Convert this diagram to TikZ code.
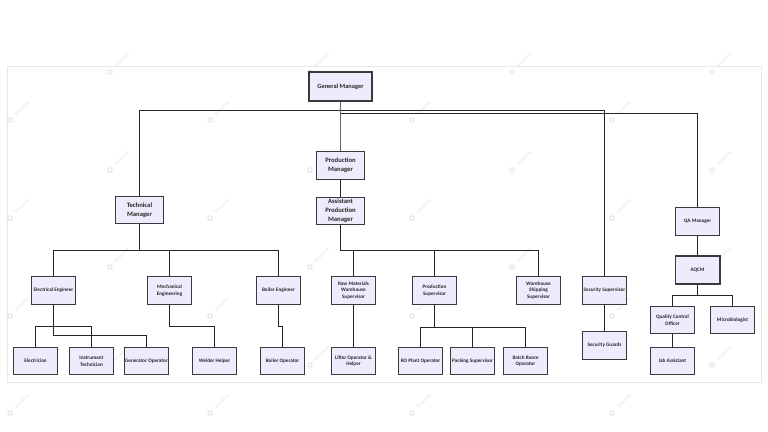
\documentclass[tikz,border=0pt]{standalone}
\usepackage{fontspec}
\setmainfont{Carlito}
\definecolor{boxfill}{HTML}{EFEBFC}
\definecolor{boxline}{HTML}{3A3A3A}
\definecolor{framecol}{HTML}{E8E8E8}
\definecolor{markcol}{HTML}{E4E4E4}
\begin{document}
\begin{tikzpicture}[x=0.75pt,y=-0.75pt,
  person/.style={draw=boxline,fill=boxfill,line width=0.8pt,minimum width=33.4pt,minimum height=20.8pt,inner sep=0pt,align=center,font=\bfseries\fontsize{3.9pt}{5.1pt}\selectfont,text=black!85},
  wide/.style={minimum width=47.5pt,minimum height=21.5pt,font=\bfseries\fontsize{4.8pt}{6pt}\selectfont},
  tall/.style={minimum width=36pt,font=\bfseries\fontsize{5pt}{6.7pt}\selectfont},
  link/.style={draw=black!85,line width=0.75pt},
  heavy/.style={line width=1.1pt},
  wm/.style={text=markcol,font=\fontsize{3.5pt}{4pt}\selectfont,rotate=45,inner sep=0pt}]
\useasboundingbox (0,0) rectangle (768,432);
\fill[white] (0,0) rectangle (768,432);
\draw[framecol,line width=0.7pt] (7,66) rectangle (761,382);
% faint watermark
\foreach \px/\py in {110/72,310/72,512/72,712/72,10/120,210/120,412/120,612/120,110/170,310/170,512/170,712/170,10/218,210/218,412/218,612/218,110/267,310/267,512/267,712/267,10/316,210/316,412/316,612/316,110/365,310/365,512/365,712/365,10/413,210/413,412/413,612/413}{
  \draw[markcol,line width=0.8pt] (\px,\py) circle[radius=2.2];
  \node[wm] at (\px+12,\py-12) {Boardmix};
}
% nodes
\node[person,wide,heavy] (gm) at (340.5,86.5) {General Manager};
\node[person,tall] (pm) at (340.5,165.5) {Production\\Manager};
\node[person,tall] (apm) at (340.5,211) {Assistant\\Production\\Manager};
\node[person,tall] (tm) at (139.5,210) {Technical\\Manager};
\node[person] (qa) at (697.5,221.5) {QA Manager};
\node[person,heavy] (aqcm) at (697.5,270) {AQCM};
\node[person] (elec) at (53.5,290.5) {Electrical Engineer};
\node[person] (mech) at (169.5,290.5) {Mechanical\\Engineering};
\node[person] (beng) at (278.5,290.5) {Boiler Engineer};
\node[person] (raw) at (353.5,290.5) {Raw Materials\\Warehouse\\Supervisor};
\node[person] (psup) at (434.5,290.5) {Production\\Supervisor};
\node[person] (wh) at (538.5,290.5) {Warehouse\\Shipping\\Supervisor};
\node[person] (ssup) at (604.5,290.5) {Security Supervisor};
\node[person] (sg) at (604.5,345.5) {Security Guards};
\node[person] (qco) at (672.5,320) {Quality Control\\Officer};
\node[person] (micro) at (732.5,320) {Microbiologist};
\node[person] (lab) at (672.5,361) {lab Assistant};
\node[person] (eln) at (35.5,361) {Electrician};
\node[person] (ins) at (91.5,361) {Instrument\\Technician};
\node[person] (gen) at (146.5,361) {Generator Operator};
\node[person] (wel) at (214.5,361) {Welder Helper};
\node[person] (bop) at (282.5,361) {Boiler Operator};
\node[person] (lift) at (353.5,361) {Lifter Operator \&\\Helper};
\node[person] (ro) at (420.5,361) {RO Plant Operator};
\node[person] (pack) at (472.5,361) {Packing Supervisor};
\node[person] (batch) at (525.5,361) {Batch Room\\Operator};
% connectors
\draw[link] (gm.south) -- ++(0,9) -| (tm.north);
\draw[link] (gm.south) -- ++(0,9) -| (ssup.north);
\draw[link] (gm.south) -- ++(0,12) -| (qa.north);
\draw[link,draw=black!60] (gm.south) -- (pm.north);
\draw[link] (pm.south) -- (apm.north);
\draw[link] (apm.south) -- ++(0,25) -| (raw.north);
\draw[link] (apm.south) -- ++(0,25) -| (psup.north);
\draw[link] (apm.south) -- ++(0,25) -| (wh.north);
\draw[link] (tm.south) -- ++(0,26) -| (elec.north);
\draw[link] (tm.south) -- ++(0,26) -| (mech.north);
\draw[link] (tm.south) -- ++(0,26) -| (beng.north);
\draw[link] (elec.south) -- ++(0,22) -| (eln.north);
\draw[link] (elec.south) -- ++(0,22) -| (ins.north);
\draw[link] (elec.south) -- ++(0,31) -| (gen.north);
\draw[link] (mech.south) -- ++(0,22) -| (wel.north);
\draw[link] (beng.south) -- ++(0,22) -| (bop.north);
\draw[link] (raw.south) -- (lift.north);
\draw[link] (psup.south) -- ++(0,22.5) -| (ro.north);
\draw[link] (psup.south) -- ++(0,22.5) -| (pack.north);
\draw[link] (psup.south) -- ++(0,22.5) -| (batch.north);
\draw[link] (ssup.south) -- (sg.north);
\draw[link] (qa.south) -- (aqcm.north);
\draw[link] (aqcm.south) -- ++(0,11) -| (qco.north);
\draw[link] (aqcm.south) -- ++(0,11) -| (micro.north);
\draw[link] (qco.south) -- (lab.north);
\end{tikzpicture}
\end{document}
